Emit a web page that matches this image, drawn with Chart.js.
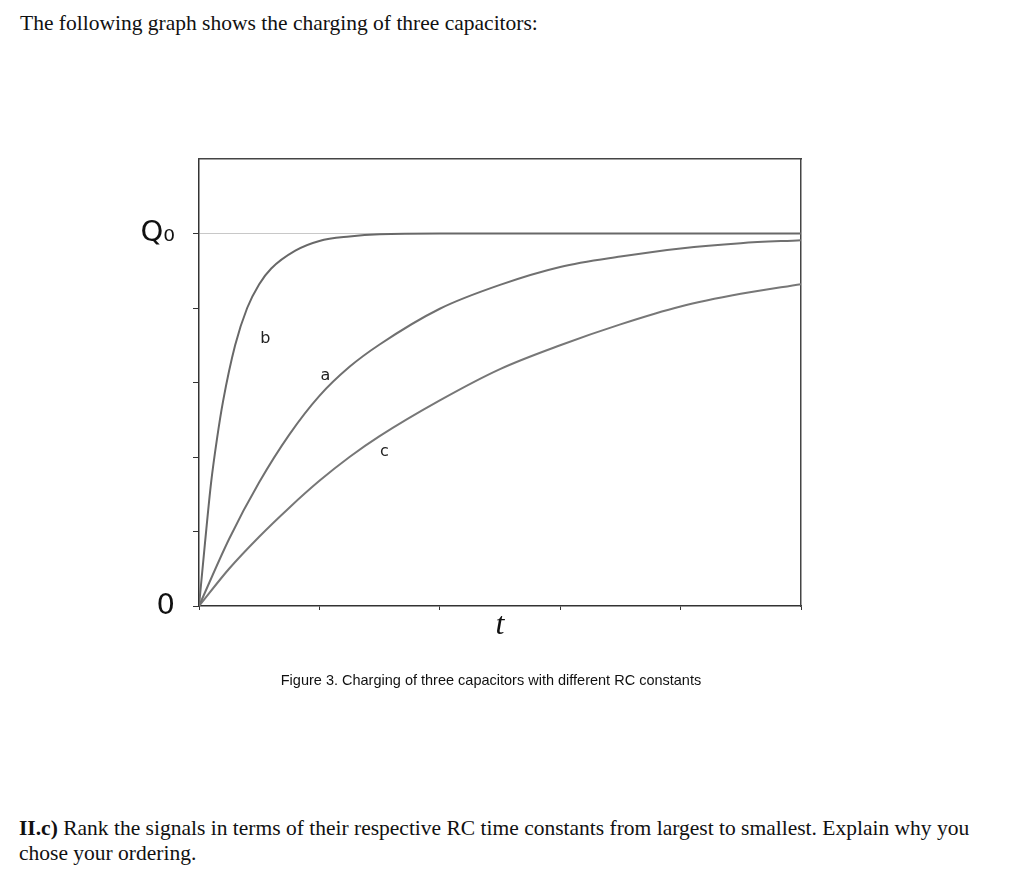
<!DOCTYPE html>
<html>
<head>
<meta charset="utf-8">
<title>Charging of three capacitors</title>
<script src="https://cdn.jsdelivr.net/npm/chart.js@4.4.0/dist/chart.umd.min.js"></script>
<style>
  html, body { margin: 0; padding: 0; background: #fff; }
  body {
    width: 1024px; height: 889px; position: relative; overflow: hidden;
    font-family: "Liberation Serif", "Times New Roman", serif; color: #111;
  }
  .intro { position: absolute; left: 20px; top: 11px; font-size: 21.5px; white-space: nowrap; }
  .box { position: absolute; left: 0; top: 0; width: 1024px; height: 700px; }
  .caption {
    position: absolute; left: 0; width: 982px; top: 672px; text-align: center;
    font: 14.5px "Liberation Sans", Arial, sans-serif; color: #111;
  }
  .question { position: absolute; left: 19px; top: 816px; font-size: 21.5px; line-height: 25px; white-space: nowrap; }
</style>
</head>
<body>
<div class="intro">The following graph shows the charging of three capacitors:</div>
<div class="box"><canvas id="chargeChart" width="1024" height="700"></canvas></div>
<div class="caption">Figure 3. Charging of three capacitors with different RC constants</div>
<div class="question"><b>II.c)</b> Rank the signals in terms of their respective RC time constants from largest to smallest. Explain why you<br>chose your ordering.</div>

<script>
// values (t in tick units, Q in tick units, Q0 = 5)
const timeAC = [0, 0.25, 0.5, 0.75, 1, 1.25, 1.5, 2, 2.5, 3, 3.5, 4, 4.5, 5];
const chargeA = [0, 0.90, 1.66, 2.30, 2.82, 3.21, 3.51, 3.99, 4.31, 4.55, 4.69, 4.80, 4.87, 4.91];
const chargeC = [0, 0.50, 0.93, 1.32, 1.68, 2.00, 2.28, 2.76, 3.18, 3.50, 3.78, 4.02, 4.19, 4.32];
const timeB = [0, 0.05, 0.1, 0.15, 0.2, 0.3, 0.4, 0.5, 0.6, 0.8, 1, 1.25, 1.5, 2, 3, 4, 5];
const chargeB = [0, 0.85, 1.65, 2.25, 2.75, 3.5, 4.0, 4.32, 4.53, 4.77, 4.9, 4.96, 4.99, 5, 5, 5, 5];
const curveNames = ["a", "b", "c"];
const qZero = 5;
const yTickText = { 0: "0", 5: "Q\u2080" };

const toPoints = (ts, qs) => ts.map((t, i) => ({ x: t, y: qs[i] }));

const curveLabels = {
  id: "curveLabels",
  afterDatasetsDraw(chart) {
    const { ctx, scales: { x, y } } = chart;
    const spots = { b: [0.55, 3.58], a: [1.05, 3.09], c: [1.54, 2.07] };
    ctx.save();
    ctx.font = '16px "DejaVu Sans"';
    ctx.fillStyle = "#222";
    ctx.textAlign = "center";
    ctx.textBaseline = "middle";
    curveNames.forEach(n => {
      ctx.fillText(n, x.getPixelForValue(spots[n][0]), y.getPixelForValue(spots[n][1]));
    });
    ctx.restore();
  }
};

const lineStyle = {
  borderColor: "#707070",
  borderWidth: 2,
  pointRadius: 0,
  fill: false,
  cubicInterpolationMode: "monotone",
  xAxisID: "x",
  yAxisID: "y"
};

new Chart(document.getElementById("chargeChart"), {
  type: "line",
  data: {
    datasets: [
      { ...lineStyle, label: curveNames[0], data: toPoints(timeAC, chargeA) },
      { ...lineStyle, label: curveNames[1], data: toPoints(timeB, chargeB), borderColor: "#686868" },
      { ...lineStyle, label: curveNames[2], data: toPoints(timeAC, chargeC), borderColor: "#777" }
    ]
  },
  options: {
    responsive: false,
    animation: false,
    events: [],
    layout: { padding: { left: 119, right: 223, top: 159, bottom: 54 } },
    plugins: { legend: { display: false }, tooltip: { enabled: false } },
    scales: {
      x: {
        type: "linear", min: 0, max: 5,
        afterFit: s => { s.height = 40; },
        ticks: { stepSize: 1, display: false },
        grid: { drawOnChartArea: false, tickLength: 4, tickColor: "#333" },
        border: { color: "#333", width: 1.5 },
        title: {
          display: true, text: "t", color: "#111",
          font: { family: "Liberation Serif", size: 32, style: "italic" },
          padding: { top: 0, bottom: 1 }
        }
      },
      y: {
        min: 0, max: 6,
        afterFit: s => { s.width = 80; },
        ticks: {
          stepSize: 1, padding: 18, color: "#111",
          font: { family: "DejaVu Sans", size: 29 },
          callback: v => yTickText[v] || ""
        },
        grid: {
          lineWidth: 1,
          tickLength: 6,
          color: c => (c.tick && c.tick.value === qZero ? "#c8c8c8" : "rgba(0,0,0,0)"),
          tickColor: c => (c.tick && c.tick.value === 6 ? "rgba(0,0,0,0)" : "#333")
        },
        border: { color: "#333", width: 1.5 }
      },
      xTop: {
        axis: "x", position: "top", type: "linear", min: 0, max: 5,
        afterFit: s => { s.height = 0; },
        ticks: { display: false },
        grid: { drawOnChartArea: false, drawTicks: false },
        border: { color: "#444", width: 1.5 }
      },
      yRight: {
        axis: "y", position: "right", min: 0, max: 6,
        afterFit: s => { s.width = 0; },
        ticks: { display: false },
        grid: { drawOnChartArea: false, drawTicks: false },
        border: { color: "#444", width: 1.5 }
      }
    }
  },
  plugins: [curveLabels]
});
</script>
</body>
</html>
